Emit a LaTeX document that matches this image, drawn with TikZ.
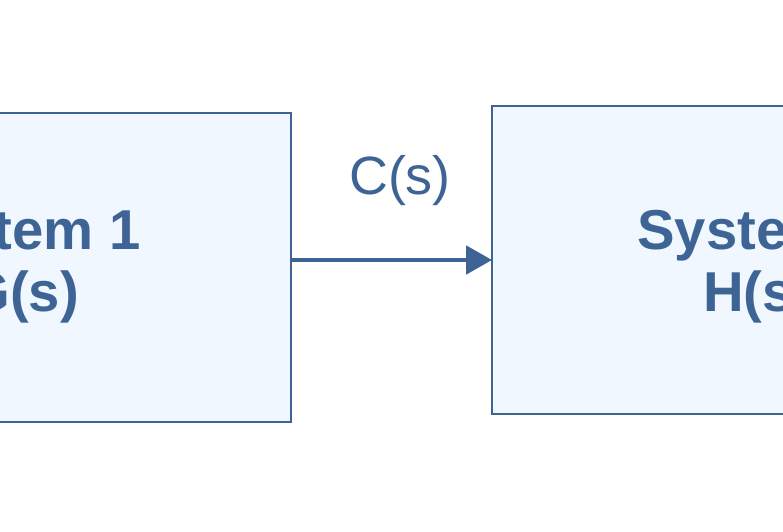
\documentclass[tikz,border=0pt]{standalone}
\usepackage{fontspec}
\setmainfont{Liberation Sans}
\usetikzlibrary{arrows.meta}
\definecolor{boxline}{HTML}{3D6494}
\definecolor{boxfill}{HTML}{F1F7FE}
\tikzset{
  sysbox/.style={draw=boxline, fill=boxfill, line width=1.5pt},
  systext/.style={text=boxline, font=\fontsize{48}{56}\selectfont\bfseries, inner sep=0pt},
  sig/.style={draw=boxline, line width=3.5pt, -{Triangle[length=22pt,width=24pt]}},
}
\begin{document}
\begin{tikzpicture}[x=0.03cm, y=-0.03cm]
  \useasboundingbox (0,0) rectangle (783,531);
  \clip (0,0) rectangle (783,531);
  % boxes
  \draw[sysbox] (-200,113) rectangle (291,422);
  \draw[sysbox] (492,106) rectangle (990,414);
  \coordinate (b1) at (291,260);
  \coordinate (b2) at (492,260);
  % labels
  \node[systext, anchor=base east] (s1) at (141,249) {System 1};
  \node[systext, anchor=base east] (g1) at (79,311) {G(s)};
  \node[systext, anchor=base west] (s2) at (637,249) {System 2};
  \node[systext, anchor=base west] (h2) at (703,311) {H(s)};
  \draw[sig] (b1) -- (b2);
  \node[text=boxline, font=\fontsize{46}{54}\selectfont, inner sep=0pt, anchor=base] (cs) at (400,194) {C(s)};
\end{tikzpicture}
\end{document}
